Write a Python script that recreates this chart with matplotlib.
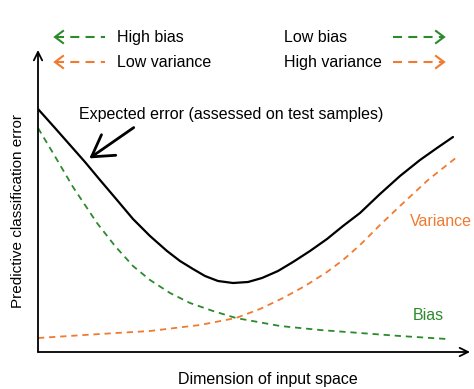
import matplotlib
matplotlib.use("Agg")
import matplotlib.pyplot as plt
from matplotlib.patches import FancyArrowPatch

plt.rcParams['font.family'] = ['Liberation Sans', 'DejaVu Sans']
plt.rcParams['lines.scale_dashes'] = False

# Curves (x: dimension of input space, y: error; arbitrary units)
err_x = [0, 17, 32, 47, 62, 79, 95, 112, 129, 142, 155, 167, 180, 195, 210, 224,
         240, 255, 272, 289, 305, 322, 342, 362, 382, 399, 415]
err_y = [243, 224, 207, 190, 172, 152, 133, 116, 101, 91, 83, 76, 71, 69, 70, 74,
         81, 90, 101, 113, 126, 139, 158, 176, 192, 204, 215]

bias_x = [0, 15, 35, 59, 77, 95, 112, 132, 152, 175, 198, 220, 242, 282, 322, 362, 409]
bias_y = [224, 199, 165, 129, 106, 86, 72, 59, 49, 41, 34, 30, 26, 22, 19, 16, 13]

var_x = [0, 62, 112, 162, 198, 222, 245, 267, 289, 305, 322, 342, 362, 390, 419]
var_y = [14, 18, 21, 27, 34, 43, 54, 66, 80, 92, 107, 127, 146, 172, 195]

GREEN = '#2b8a2b'
ORANGE = '#f07a30'

W, H = 474, 389
fig = plt.figure(figsize=(W / 100, H / 100), dpi=100)
ax = fig.add_axes([38 / W, (H - 352) / H, 432 / W, 302 / H])
ax.set_xlim(0, 432)
ax.set_ylim(0, 302)
ax.axis('off')

ax.plot(err_x, err_y, color='black', lw=1.6, solid_capstyle='round', solid_joinstyle='round')
ax.plot(bias_x, bias_y, color=GREEN, lw=1.3, dashes=(4.5, 3.5))
ax.plot(var_x, var_y, color=ORANGE, lw=1.3, dashes=(4.5, 3.5))

# axes arrows
ax.annotate('', xy=(0, 1.0), xytext=(0, 0), xycoords='axes fraction',
            arrowprops=dict(arrowstyle='->,head_length=0.6,head_width=0.3', lw=1.3, color='black',
                            shrinkA=0, shrinkB=0))
ax.annotate('', xy=(1.0, 0), xytext=(0, 0), xycoords='axes fraction',
            arrowprops=dict(arrowstyle='->,head_length=0.6,head_width=0.3', lw=1.3, color='black',
                            shrinkA=0, shrinkB=0))

# overlay in pixel coordinates for annotations
ov = fig.add_axes([0, 0, 1, 1])
ov.set_xlim(0, W)
ov.set_ylim(H, 0)
ov.axis('off')

FS = 11.5

def legend_arrow(x0, x1, y, color, left):
    ov.plot([x0, x1], [y, y], color=color, lw=1.5, dashes=(6.5, 4.5))
    if left:
        tip = x0
        ov.plot([tip + 8, tip, tip + 8], [y - 6, y, y + 6], color=color, lw=1.5,
                solid_joinstyle='miter')
    else:
        tip = x1
        ov.plot([tip - 8, tip, tip - 8], [y - 6, y, y + 6], color=color, lw=1.5,
                solid_joinstyle='miter')

legend_arrow(55, 105, 37, GREEN, True)
legend_arrow(55, 105, 62, ORANGE, True)
legend_arrow(393, 444, 37, GREEN, False)
legend_arrow(393, 444, 62, ORANGE, False)

ov.text(117, 42, 'High bias', fontsize=FS, va='baseline', ha='left')
ov.text(117, 67, 'Low variance', fontsize=FS, va='baseline', ha='left')
ov.text(284, 42, 'Low bias', fontsize=FS, va='baseline', ha='left')
ov.text(284, 67, 'High variance', fontsize=FS, va='baseline', ha='left')

ov.text(79, 119, 'Expected error (assessed on test samples)', fontsize=FS,
        va='baseline', ha='left')
ov.add_patch(FancyArrowPatch((136, 126), (87, 160),
                             arrowstyle='->,head_length=5,head_width=3',
                             lw=2.0, color='black', mutation_scale=3))

ov.text(410, 226, 'Variance', fontsize=FS, color=ORANGE, va='baseline', ha='left')
ov.text(413, 320, 'Bias', fontsize=FS, color=GREEN, va='baseline', ha='left')

ov.text(268, 384, 'Dimension of input space', fontsize=FS, va='baseline', ha='center')
ov.text(18, 211, 'Predictive classification error', fontsize=11, rotation=90,
        va='center', ha='center')

fig.savefig('out.png', dpi=100)
